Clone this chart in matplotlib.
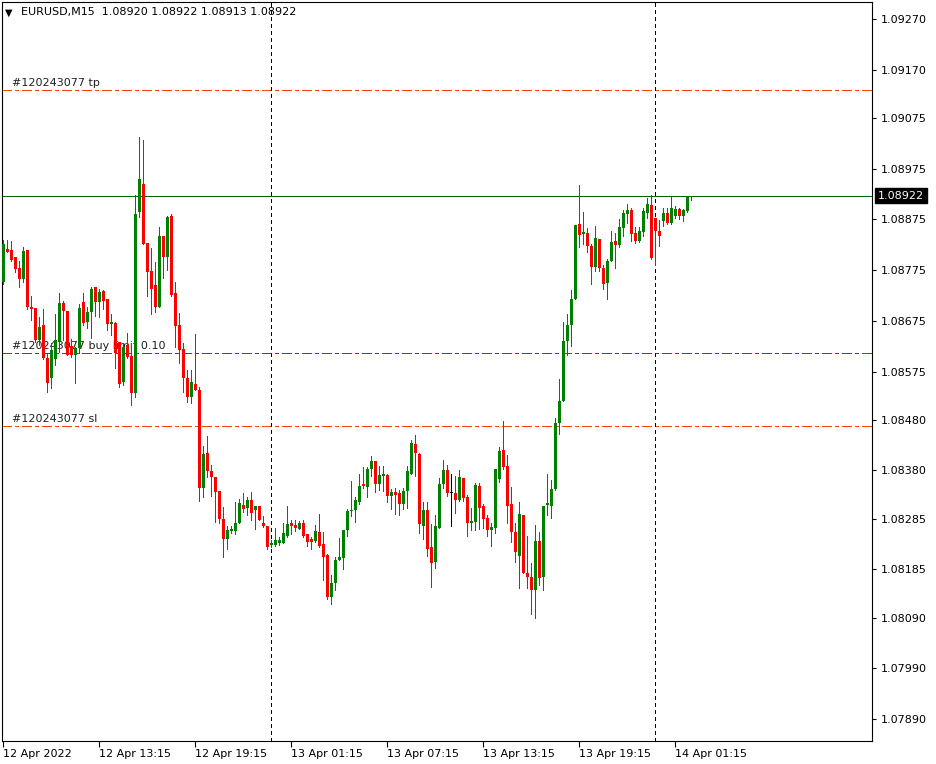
import numpy as np
import matplotlib.pyplot as plt

# EURUSD M15 candles, 12 Apr 07:15 .. 14 Apr 02:15 (one bar per 15 minutes)
opens = [
    1.08751, 1.08816, 1.08814, 1.08800, 1.08780, 1.08757, 1.08814, 1.08702, 1.08700, 1.08638,
    1.08667, 1.08602, 1.08563, 1.08600, 1.08634, 1.08710, 1.08694, 1.08626, 1.08608, 1.08622,
    1.08712, 1.08673, 1.08692, 1.08741, 1.08712, 1.08733, 1.08718, 1.08669, 1.08671, 1.08634,
    1.08555, 1.08628, 1.08606, 1.08533, 1.08890, 1.08945, 1.08828, 1.08773, 1.08745, 1.08702,
    1.08842, 1.08800, 1.08882, 1.08729, 1.08667, 1.08620, 1.08563, 1.08525, 1.08551, 1.08539,
    1.08345, 1.08414, 1.08378, 1.08367, 1.08339, 1.08284, 1.08245, 1.08260, 1.08260, 1.08276,
    1.08311, 1.08307, 1.08321, 1.08303, 1.08309, 1.08276, 1.08270, 1.08233, 1.08233, 1.08237,
    1.08237, 1.08250, 1.08276, 1.08272, 1.08264, 1.08276, 1.08254, 1.08245, 1.08241, 1.08258,
    1.08235, 1.08213, 1.08130, 1.08158, 1.08203, 1.08207, 1.08262, 1.08300, 1.08303, 1.08317,
    1.08353, 1.08347, 1.08382, 1.08398, 1.08353, 1.08369, 1.08371, 1.08329, 1.08337, 1.08335,
    1.08313, 1.08339, 1.08374, 1.08432, 1.08412, 1.08270, 1.08302, 1.08229, 1.08199, 1.08266,
    1.08353, 1.08380, 1.08335, 1.08335, 1.08321, 1.08365, 1.08327, 1.08276, 1.08278, 1.08349,
    1.08309, 1.08286, 1.08262, 1.08266, 1.08363, 1.08420, 1.08388, 1.08313, 1.08258, 1.08211,
    1.08292, 1.08178, 1.08170, 1.08144, 1.08241, 1.08170, 1.08311, 1.08309, 1.08343, 1.08473,
    1.08517, 1.08636, 1.08667, 1.08718, 1.08865, 1.08847, 1.08849, 1.08822, 1.08782, 1.08836,
    1.08780, 1.08749, 1.08792, 1.08832, 1.08824, 1.08857, 1.08886, 1.08894, 1.08849, 1.08832,
    1.08851, 1.08888, 1.08903, 1.08878, 1.08853, 1.08871, 1.08888, 1.08867, 1.08882, 1.08896,
    1.08882, 1.08892, 1.08920,
]
highs = [
    1.08834, 1.08834, 1.08832, 1.08800, 1.08792, 1.08820, 1.08814, 1.08723, 1.08700, 1.08682,
    1.08698, 1.08612, 1.08632, 1.08688, 1.08729, 1.08714, 1.08694, 1.08640, 1.08624, 1.08708,
    1.08729, 1.08702, 1.08741, 1.08741, 1.08737, 1.08735, 1.08718, 1.08688, 1.08673, 1.08634,
    1.08632, 1.08651, 1.08632, 1.08923, 1.09038, 1.09032, 1.08828, 1.08818, 1.08790, 1.08859,
    1.08842, 1.08882, 1.08886, 1.08751, 1.08690, 1.08632, 1.08578, 1.08578, 1.08649, 1.08545,
    1.08428, 1.08447, 1.08390, 1.08367, 1.08339, 1.08308, 1.08270, 1.08270, 1.08317, 1.08323,
    1.08335, 1.08327, 1.08337, 1.08309, 1.08309, 1.08290, 1.08270, 1.08243, 1.08266, 1.08249,
    1.08276, 1.08309, 1.08282, 1.08282, 1.08280, 1.08282, 1.08254, 1.08249, 1.08272, 1.08294,
    1.08258, 1.08215, 1.08174, 1.08209, 1.08247, 1.08262, 1.08305, 1.08359, 1.08327, 1.08373,
    1.08386, 1.08386, 1.08408, 1.08398, 1.08388, 1.08388, 1.08373, 1.08343, 1.08345, 1.08341,
    1.08345, 1.08388, 1.08440, 1.08449, 1.08414, 1.08317, 1.08317, 1.08274, 1.08292, 1.08365,
    1.08400, 1.08390, 1.08373, 1.08369, 1.08380, 1.08365, 1.08331, 1.08307, 1.08355, 1.08355,
    1.08313, 1.08292, 1.08276, 1.08382, 1.08426, 1.08477, 1.08410, 1.08347, 1.08276, 1.08317,
    1.08292, 1.08250, 1.08197, 1.08272, 1.08258, 1.08309, 1.08373, 1.08361, 1.08484, 1.08561,
    1.08673, 1.08688, 1.08735, 1.08863, 1.08943, 1.08890, 1.08857, 1.08826, 1.08861, 1.08836,
    1.08786, 1.08796, 1.08853, 1.08849, 1.08875, 1.08894, 1.08906, 1.08898, 1.08859, 1.08859,
    1.08898, 1.08917, 1.08923, 1.08878, 1.08873, 1.08898, 1.08898, 1.08919, 1.08902, 1.08898,
    1.08896, 1.08921, 1.08922,
]
lows = [
    1.08747, 1.08810, 1.08792, 1.08771, 1.08741, 1.08751, 1.08698, 1.08677, 1.08634, 1.08628,
    1.08600, 1.08535, 1.08543, 1.08588, 1.08614, 1.08638, 1.08608, 1.08604, 1.08553, 1.08612,
    1.08667, 1.08661, 1.08642, 1.08684, 1.08682, 1.08698, 1.08657, 1.08647, 1.08582, 1.08545,
    1.08549, 1.08602, 1.08509, 1.08525, 1.08880, 1.08826, 1.08723, 1.08688, 1.08692, 1.08702,
    1.08759, 1.08776, 1.08723, 1.08624, 1.08592, 1.08535, 1.08515, 1.08513, 1.08539, 1.08319,
    1.08327, 1.08367, 1.08329, 1.08278, 1.08276, 1.08209, 1.08225, 1.08256, 1.08254, 1.08276,
    1.08298, 1.08292, 1.08282, 1.08264, 1.08282, 1.08268, 1.08225, 1.08229, 1.08231, 1.08233,
    1.08237, 1.08249, 1.08254, 1.08260, 1.08264, 1.08249, 1.08231, 1.08225, 1.08239, 1.08229,
    1.08164, 1.08126, 1.08116, 1.08144, 1.08203, 1.08185, 1.08250, 1.08290, 1.08278, 1.08313,
    1.08345, 1.08327, 1.08369, 1.08337, 1.08341, 1.08339, 1.08317, 1.08305, 1.08294, 1.08292,
    1.08305, 1.08307, 1.08373, 1.08369, 1.08256, 1.08245, 1.08211, 1.08150, 1.08187, 1.08266,
    1.08345, 1.08329, 1.08270, 1.08296, 1.08319, 1.08319, 1.08250, 1.08262, 1.08262, 1.08264,
    1.08266, 1.08250, 1.08231, 1.08256, 1.08357, 1.08382, 1.08276, 1.08239, 1.08199, 1.08148,
    1.08178, 1.08148, 1.08097, 1.08089, 1.08154, 1.08144, 1.08292, 1.08286, 1.08341, 1.08451,
    1.08517, 1.08608, 1.08626, 1.08718, 1.08820, 1.08826, 1.08810, 1.08747, 1.08773, 1.08773,
    1.08737, 1.08719, 1.08792, 1.08780, 1.08820, 1.08842, 1.08867, 1.08832, 1.08828, 1.08830,
    1.08842, 1.08878, 1.08796, 1.08786, 1.08822, 1.08861, 1.08865, 1.08865, 1.08878, 1.08876,
    1.08871, 1.08890, 1.08913,
]
closes = [
    1.08826, 1.08810, 1.08794, 1.08778, 1.08757, 1.08812, 1.08702, 1.08698, 1.08638, 1.08663,
    1.08602, 1.08553, 1.08618, 1.08638, 1.08710, 1.08694, 1.08608, 1.08608, 1.08622, 1.08700,
    1.08671, 1.08692, 1.08737, 1.08712, 1.08731, 1.08714, 1.08669, 1.08673, 1.08612, 1.08551,
    1.08624, 1.08604, 1.08533, 1.08886, 1.08955, 1.08826, 1.08771, 1.08737, 1.08702, 1.08842,
    1.08800, 1.08880, 1.08725, 1.08665, 1.08618, 1.08563, 1.08525, 1.08555, 1.08539, 1.08345,
    1.08412, 1.08378, 1.08367, 1.08337, 1.08284, 1.08245, 1.08262, 1.08264, 1.08276, 1.08315,
    1.08305, 1.08321, 1.08296, 1.08309, 1.08282, 1.08270, 1.08229, 1.08237, 1.08243, 1.08243,
    1.08256, 1.08274, 1.08270, 1.08266, 1.08276, 1.08250, 1.08239, 1.08239, 1.08260, 1.08231,
    1.08209, 1.08130, 1.08158, 1.08203, 1.08209, 1.08262, 1.08300, 1.08303, 1.08321, 1.08349,
    1.08349, 1.08382, 1.08398, 1.08353, 1.08371, 1.08373, 1.08329, 1.08337, 1.08331, 1.08313,
    1.08339, 1.08378, 1.08434, 1.08414, 1.08274, 1.08302, 1.08225, 1.08197, 1.08270, 1.08353,
    1.08380, 1.08335, 1.08335, 1.08321, 1.08367, 1.08325, 1.08276, 1.08280, 1.08351, 1.08307,
    1.08284, 1.08262, 1.08268, 1.08382, 1.08418, 1.08386, 1.08309, 1.08258, 1.08219, 1.08294,
    1.08178, 1.08170, 1.08144, 1.08241, 1.08168, 1.08309, 1.08315, 1.08343, 1.08473, 1.08517,
    1.08636, 1.08667, 1.08718, 1.08863, 1.08845, 1.08851, 1.08822, 1.08782, 1.08838, 1.08780,
    1.08747, 1.08792, 1.08830, 1.08824, 1.08859, 1.08888, 1.08894, 1.08847, 1.08832, 1.08853,
    1.08892, 1.08905, 1.08798, 1.08853, 1.08843, 1.08888, 1.08867, 1.08898, 1.08896, 1.08882,
    1.08894, 1.08919, 1.08922,
]

time_labels = ["12 Apr 2022", "12 Apr 13:15", "12 Apr 19:15", "13 Apr 01:15",
               "13 Apr 07:15", "13 Apr 13:15", "13 Apr 19:15", "14 Apr 01:15"]
time_label_bars = [0, 24, 48, 72, 96, 120, 144, 168]
day_separator_bars = [67, 163]

price_ticks = [1.09270, 1.09170, 1.09075, 1.08975, 1.08875, 1.08775, 1.08675, 1.08575,
               1.08480, 1.08380, 1.08285, 1.08185, 1.08090, 1.07990, 1.07890]

header = "EURUSD,M15  1.08920 1.08922 1.08913 1.08922"
last_price = 1.08922
order_id = "#120243077"
tp_price = 1.09130
buy_limit_price = 1.08612
sl_price = 1.08468

BULL = "#008000"
BEAR = "#ff0000"
LEVEL = "#ff4500"
FONT = "DejaVu Sans"
FS = 8

W, H = 936, 764
fig = plt.figure(figsize=(W / 100, H / 100), dpi=100)
ax = fig.add_axes([2 / W, 1 - 741 / H, 870 / W, 739 / H])

o = np.array(opens)
h = np.array(highs)
l = np.array(lows)
c = np.array(closes)
x = np.arange(len(o))
colors = np.where(c > o, BULL, np.where(c < o, BEAR, "#000000"))

px = 1.9714e-5  # price per pixel
ax.vlines(x, l, h, colors=colors, linewidth=0.72, antialiased=False, zorder=3)
ax.bar(x, np.maximum(np.abs(c - o), px), bottom=np.minimum(o, c), width=0.75,
       color=colors, linewidth=0, antialiased=False, zorder=3)

# order levels
dashdot = (0, (10, 3, 3, 3))
for price, col in [(tp_price, LEVEL), (buy_limit_price, BULL), (sl_price, LEVEL)]:
    ax.axhline(price, color=col, lw=0.72, ls=dashdot, antialiased=False, zorder=1)
for price, txt in [(tp_price, "tp"), (buy_limit_price, "buy limit 0.10"), (sl_price, "sl")]:
    ax.annotate(f"{order_id} {txt}", xy=(2.2, price), xytext=(0, 1.5),
                textcoords="offset points", va="bottom", ha="left",
                fontsize=FS, family=FONT, color="#202020", zorder=0.5)

ax.axhline(last_price, color="#006400", lw=0.72, antialiased=False, zorder=2)

for b in day_separator_bars:
    ax.axvline(b, color="black", lw=0.8, ls=(0, (3, 3)), antialiased=False, zorder=2)

ax.set_xlim(-0.25, 217.25)
ax.set_ylim(1.078467, 1.093035)

ax.yaxis.tick_right()
ax.set_yticks(price_ticks)
ax.set_yticklabels([f"{p:.5f}" for p in price_ticks])
ax.set_xticks(time_label_bars)
ax.set_xticklabels(time_labels)
for lab in ax.get_xticklabels():
    lab.set_horizontalalignment("left")
ax.tick_params(axis="y", length=3, width=0.8, pad=3, labelsize=FS, direction="out")
ax.tick_params(axis="x", length=4, width=0.8, pad=2, labelsize=FS, direction="out")
for lab in ax.get_xticklabels() + ax.get_yticklabels():
    lab.set_family(FONT)
for s in ax.spines.values():
    s.set_linewidth(0.8)
    s.set_color("black")

ax.annotate(f"{last_price:.5f}", xy=(1, last_price), xycoords=("axes fraction", "data"),
            xytext=(4.3, 0), textcoords="offset points", va="center", ha="left",
            fontsize=FS, family=FONT, color="white",
            bbox=dict(boxstyle="square,pad=0.25", fc="black", ec="black"))

fig.text(5 / W, 1 - 12.5 / H, "\u25bc", fontsize=7, va="center", ha="left", family=FONT)
fig.text(21 / W, 1 - 12.5 / H, header, fontsize=FS, va="center", ha="left",
         family=FONT, color="black")

fig.savefig("out.png", dpi=100)
